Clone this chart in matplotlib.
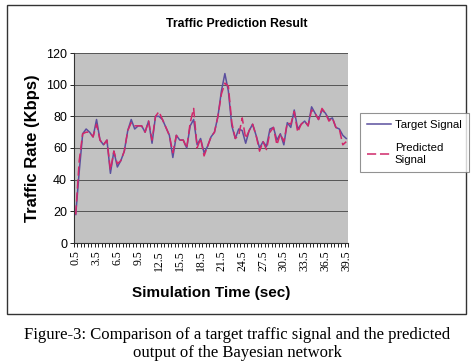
import matplotlib
matplotlib.use("Agg")
import matplotlib.pyplot as plt
from matplotlib.patches import Rectangle
import numpy as np

times = [f"{0.5 + 0.5*i:.1f}" for i in range(79)]
target = [18, 45, 69, 72, 70, 67, 78, 65, 62, 65,
          44, 58, 48, 52, 58, 71, 78, 72, 74, 74,
          70, 77, 63, 80, 80, 78, 73, 68, 54, 68,
          65, 65, 60, 74, 78, 62, 66, 57, 61, 67,
          70, 80, 96, 107, 96, 74, 66, 72, 71, 63,
          71, 75, 68, 60, 64, 61, 72, 73, 65, 69,
          62, 76, 73, 84, 72, 75, 77, 74, 86, 82,
          78, 84, 82, 78, 79, 73, 72, 68, 66]
predicted = [18, 52, 69, 70, 70, 67, 75, 65, 62, 65,
             46, 58, 50, 52, 58, 71, 76, 74, 74, 74,
             70, 77, 65, 80, 83, 78, 73, 68, 57, 68,
             65, 65, 60, 76, 85, 60, 66, 55, 61, 67,
             70, 80, 94, 101, 99, 76, 66, 68, 79, 66,
             71, 75, 68, 58, 64, 59, 70, 73, 62, 69,
             64, 76, 75, 83, 70, 75, 77, 74, 84, 82,
             78, 85, 82, 77, 79, 73, 72, 62, 64]
yticks = [0, 20, 40, 60, 80, 100, 120]

fig = plt.figure(figsize=(4.74, 3.63), dpi=100)
fig.patch.set_facecolor("white")

# outer chart frame
fig.add_artist(Rectangle((7/474, 1-314/363), 459/474, 309/363, transform=fig.transFigure,
                         fill=False, edgecolor="#333333", linewidth=1.0))

ax = fig.add_axes([74/474, 1-243/363, 274/474, 190/363])
ax.set_facecolor("#c2c2c2")
idx = np.arange(len(times))
ax.plot(idx, target, color="#5b4f9e", linewidth=1.1, label="Target Signal", zorder=3)
ax.plot(idx, predicted, color="#d0286a", linewidth=1.1, linestyle=(0, (6, 2.5)),
        label="Predicted\nSignal", zorder=4)

ax.set_xlim(-0.5, len(times) - 0.5)
ax.set_ylim(0, 120)
ax.set_yticks(yticks)
ax.set_yticklabels([str(v) for v in yticks], fontsize=9, family="Liberation Sans")
ax.yaxis.grid(True, color="#555555", linewidth=0.7)
ax.set_axisbelow(True)
ax.set_xticks(idx[::6])
ax.set_xticklabels([times[i] for i in range(0, len(times), 6)], rotation=90,
                   fontsize=8.5, family="Liberation Serif")
ax.set_xticks(np.arange(-0.5, len(times), 1), minor=True)
ax.tick_params(axis="x", which="major", length=0, pad=5)
ax.tick_params(axis="x", which="minor", length=3, width=0.6, direction="out")
ax.tick_params(axis="y", length=3, width=0.6, pad=2)
for s in ["top", "right"]:
    ax.spines[s].set_visible(False)
ax.spines["left"].set_color("#333333")
ax.spines["bottom"].set_color("#333333")

ax.set_ylabel("Traffic Rate (Kbps)", fontsize=12, fontweight="bold",
              family="Liberation Sans", labelpad=4)
ax.set_xlabel("Simulation Time (sec)", fontsize=11, fontweight="bold",
              family="Liberation Sans", labelpad=11)

fig.text(237/474, 1-24/363, "Traffic Prediction Result", ha="center", va="center",
         fontsize=8.8, fontweight="bold", family="Liberation Sans")

leg = fig.legend(loc="upper left", bbox_to_anchor=(360/474, 1-113/363),
                 prop={"family": "Liberation Sans", "size": 8.2},
                 frameon=True, fancybox=False, edgecolor="#777777",
                 handlelength=2.1, borderpad=0.65, labelspacing=1.1, handletextpad=0.3,
                 borderaxespad=0)
leg.get_frame().set_linewidth(0.8)

fig.text(237/474, 1-335/363, "Figure-3: Comparison of a target traffic signal and the predicted",
         ha="center", va="center", fontsize=12, family="Liberation Serif")
fig.text(237/474, 1-353/363, "output of the Bayesian network",
         ha="center", va="center", fontsize=12, family="Liberation Serif")

fig.savefig("out.png", dpi=100)
